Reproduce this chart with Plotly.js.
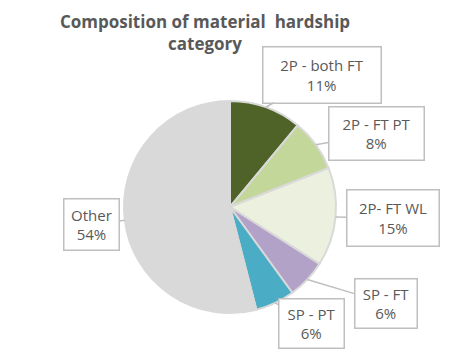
<!DOCTYPE html>
<html>
<head>
<meta charset="utf-8">
<script src="https://cdn.plot.ly/plotly-3.0.1.min.js"></script>
<style>html,body{margin:0;padding:0;background:#fff;}#chart{width:469px;height:355px;}</style>
</head>
<body>
<div id="chart"></div>
<script>
// Data
const categories = ["2P - both FT", "2P - FT PT", "2P- FT WL", "SP - FT", "SP - PT", "Other"];
const shares = [11, 8, 15, 6, 6, 54];
const sliceColors = ["#4f6228", "#c4d79b", "#ebf1de", "#b3a2c7", "#4bacc6", "#d9d9d9"];

// Layout constants (pixels)
const W = 469, H = 355;
const CX = 230, CY = 207, R = 106;
// callout box centre and size [cx, cy, w, h]
const boxes = [
  [321.5, 74.5, 117, 55],
  [376, 134, 94, 52],
  [392.5, 218.5, 91, 55],
  [385.5, 303, 61, 48],
  [311, 323, 64, 48],
  [91, 224, 54, 50]
];

const total = shares.reduce((a, b) => a + b, 0);
let cum = 0;
const annotations = [];
shares.forEach((v, i) => {
  const mid = (cum + v / 2) / total;
  cum += v;
  const th = 2 * Math.PI * mid;
  const tx = CX + R * Math.sin(th);
  const ty = CY - R * Math.cos(th);
  const b = boxes[i];
  annotations.push({
    xref: 'paper', yref: 'paper',
    x: tx / W, y: 1 - ty / H,
    ax: b[0] - tx, ay: b[1] - ty,
    text: categories[i] + '<br>' + Math.round(v / total * 100) + '%',
    showarrow: true, arrowhead: 0, arrowwidth: 1.5, arrowcolor: '#bfbfbf',
    standoff: 0, startstandoff: 0,
    bordercolor: '#bfbfbf', borderwidth: 1.5, borderpad: 0,
    bgcolor: '#ffffff',
    width: b[2], height: b[3],
    align: 'center', valign: 'middle',
    font: {family: 'Open Sans, sans-serif', size: 15, color: '#595959'}
  });
});

const trace = {
  type: 'pie',
  labels: categories,
  values: shares,
  sort: false,
  direction: 'clockwise',
  rotation: 0,
  textinfo: 'none',
  hoverinfo: 'label+percent',
  marker: {colors: sliceColors, line: {color: '#d9d9d9', width: 2}},
  domain: {x: [(CX - R) / W, (CX + R) / W], y: [(H - CY - R) / H, (H - CY + R) / H]},
  showlegend: false
};

const layout = {
  width: W, height: H,
  margin: {l: 0, r: 0, t: 0, b: 0},
  paper_bgcolor: '#ffffff',
  title: {
    text: '<b>Composition of material  hardship<br>category</b>',
    x: 205 / W, xanchor: 'center',
    y: 1 - 28 / H, yanchor: 'top',
    font: {family: 'Open Sans, sans-serif', size: 17, color: '#595959'}
  },
  annotations: annotations,
  showlegend: false
};

Plotly.newPlot('chart', [trace], layout, {displayModeBar: false, staticPlot: true});
</script>
</body>
</html>
